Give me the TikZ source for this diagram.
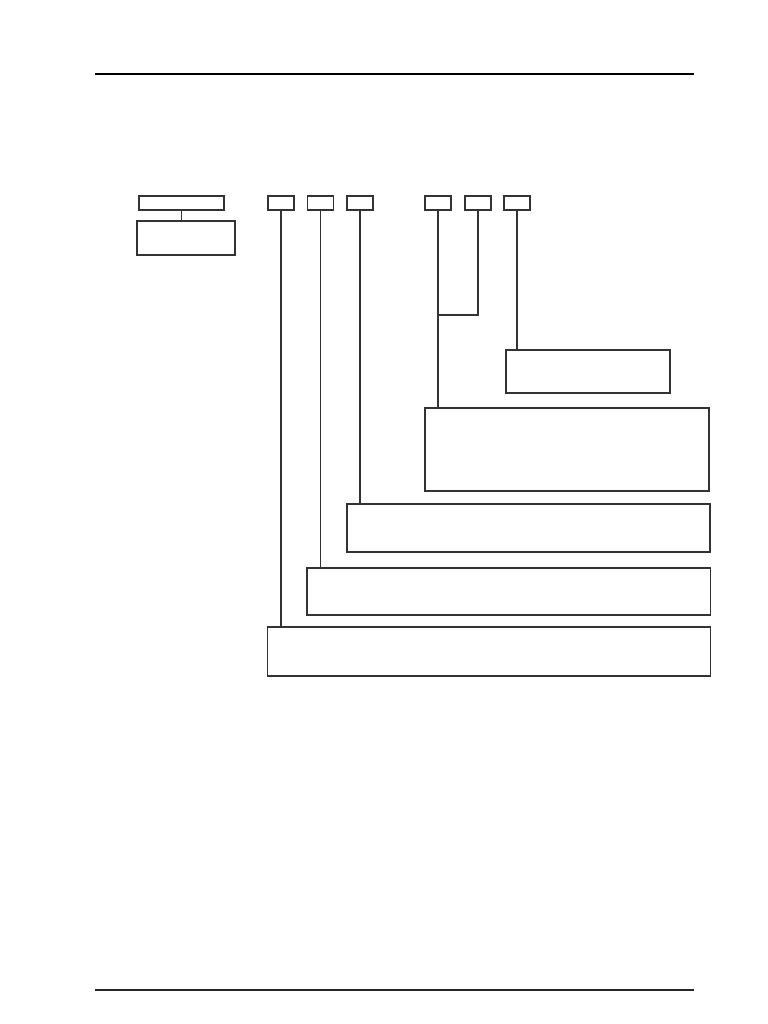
\documentclass[tikz,border=0pt]{standalone}
\usepackage{tikz}
\usetikzlibrary{positioning,calc}

\tikzset{
  box/.style={draw=black!80, line width=0.35pt, inner sep=0pt, outer sep=0pt},
  keybox/.style={box, minimum width=0.26cm, minimum height=0.14cm},
  lead/.style={draw=black!80, line width=0.35pt}
}

\begin{document}
\begin{tikzpicture}[x=0.01cm,y=-0.01cm]
  \useasboundingbox (0,0) rectangle (768,1024);

  % page rules
  \draw [line width=0.75pt] (95,74) -- (694,74);
  \draw [line width=0.45pt, black!85] (95,990) -- (694,990);

  % head
  \node[box, minimum width=0.85cm, minimum height=0.14cm] (hd) at (181.5,203) {};
  \node[box, minimum width=0.98cm, minimum height=0.34cm] (hdtxt) at (186,238) {};
  \draw[lead] (hd.south) -- (hdtxt.north -| hd.south);

  % code positions
  \node[keybox] (k1) at (281,203) {};
  \node[keybox] (k2) at (320.5,203) {};
  \node[keybox] (k3) at (360,203) {};
  \node[keybox] (k4) at (438,203) {};
  \node[keybox] (k5) at (478,203) {};
  \node[keybox] (k6) at (517,203) {};

  % explanation boxes
  \node[box, minimum width=1.64cm, minimum height=0.43cm] (e6) at (588,371.5) {};
  \node[box, minimum width=2.84cm, minimum height=0.83cm] (e4) at (567,449.5) {};
  \node[box, minimum width=3.63cm, minimum height=0.48cm] (e3) at (528.5,528) {};
  \node[box, minimum width=4.03cm, minimum height=0.47cm] (e2) at (508.5,591.5) {};
  \node[box, minimum width=4.42cm, minimum height=0.49cm] (e1) at (489,651.5) {};

  % leads
  \coordinate (j45) at (438,315);
  \draw[lead] (k1.south) -- (k1.south |- e1.north);
  \draw[lead] (k2.south) -- (k2.south |- e2.north);
  \draw[lead] (k3.south) -- (k3.south |- e3.north);
  \draw[lead] (k4.south) -- (k4.south |- e4.north);
  \draw[lead] (k5.south) |- (j45);
  \draw[lead] (k6.south) -- (k6.south |- e6.north);
\end{tikzpicture}
\end{document}
